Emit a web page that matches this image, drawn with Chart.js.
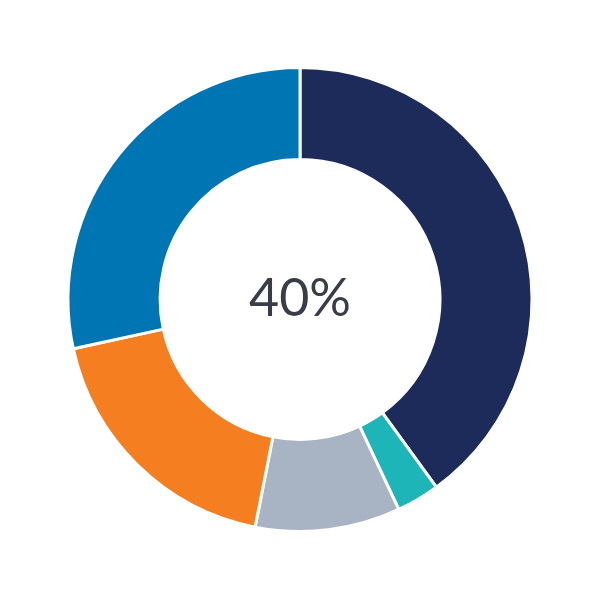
<!DOCTYPE html>
<html>
<head>
<meta charset="utf-8">
<script src="https://cdn.jsdelivr.net/npm/chart.js@4"></script>
<style>
html,body{margin:0;padding:0;background:#fff;}
#wrap{position:relative;width:600px;height:599px;}
</style>
</head>
<body>
<div id="wrap"><canvas id="c"></canvas></div>
<script>
const categories = ['Navy', 'Teal', 'Gray', 'Orange', 'Blue'];
const values = [40, 3, 10.1, 18.5, 28.4];
const colors = ['#1c2b5a', '#1db5b8', '#a8b3c3', '#f47e20', '#0075b4'];
const centerLabel = '40%';

const centerText = {
  id: 'centerText',
  afterDraw(chart) {
    const meta = chart.getDatasetMeta(0);
    const arc = meta.data[0];
    if (!arc) return;
    const ctx = chart.ctx;
    ctx.save();
    ctx.font = '400 52px Lato';
    ctx.fillStyle = '#383d48';
    ctx.textAlign = 'center';
    ctx.textBaseline = 'middle';
    ctx.fillText(centerLabel, arc.x, arc.y);
    ctx.restore();
  }
};

new Chart(document.getElementById('c'), {
  type: 'doughnut',
  data: {
    labels: categories,
    datasets: [{
      data: values,
      backgroundColor: colors,
      borderColor: '#ffffff',
      borderWidth: 3,
      hoverOffset: 0
    }]
  },
  options: {
    responsive: true,
    maintainAspectRatio: false,
    animation: false,
    cutout: '60.3%',
    layout: { padding: 66 },
    plugins: { legend: { display: false }, tooltip: { enabled: false } }
  },
  plugins: [centerText]
});
</script>
</body>
</html>
